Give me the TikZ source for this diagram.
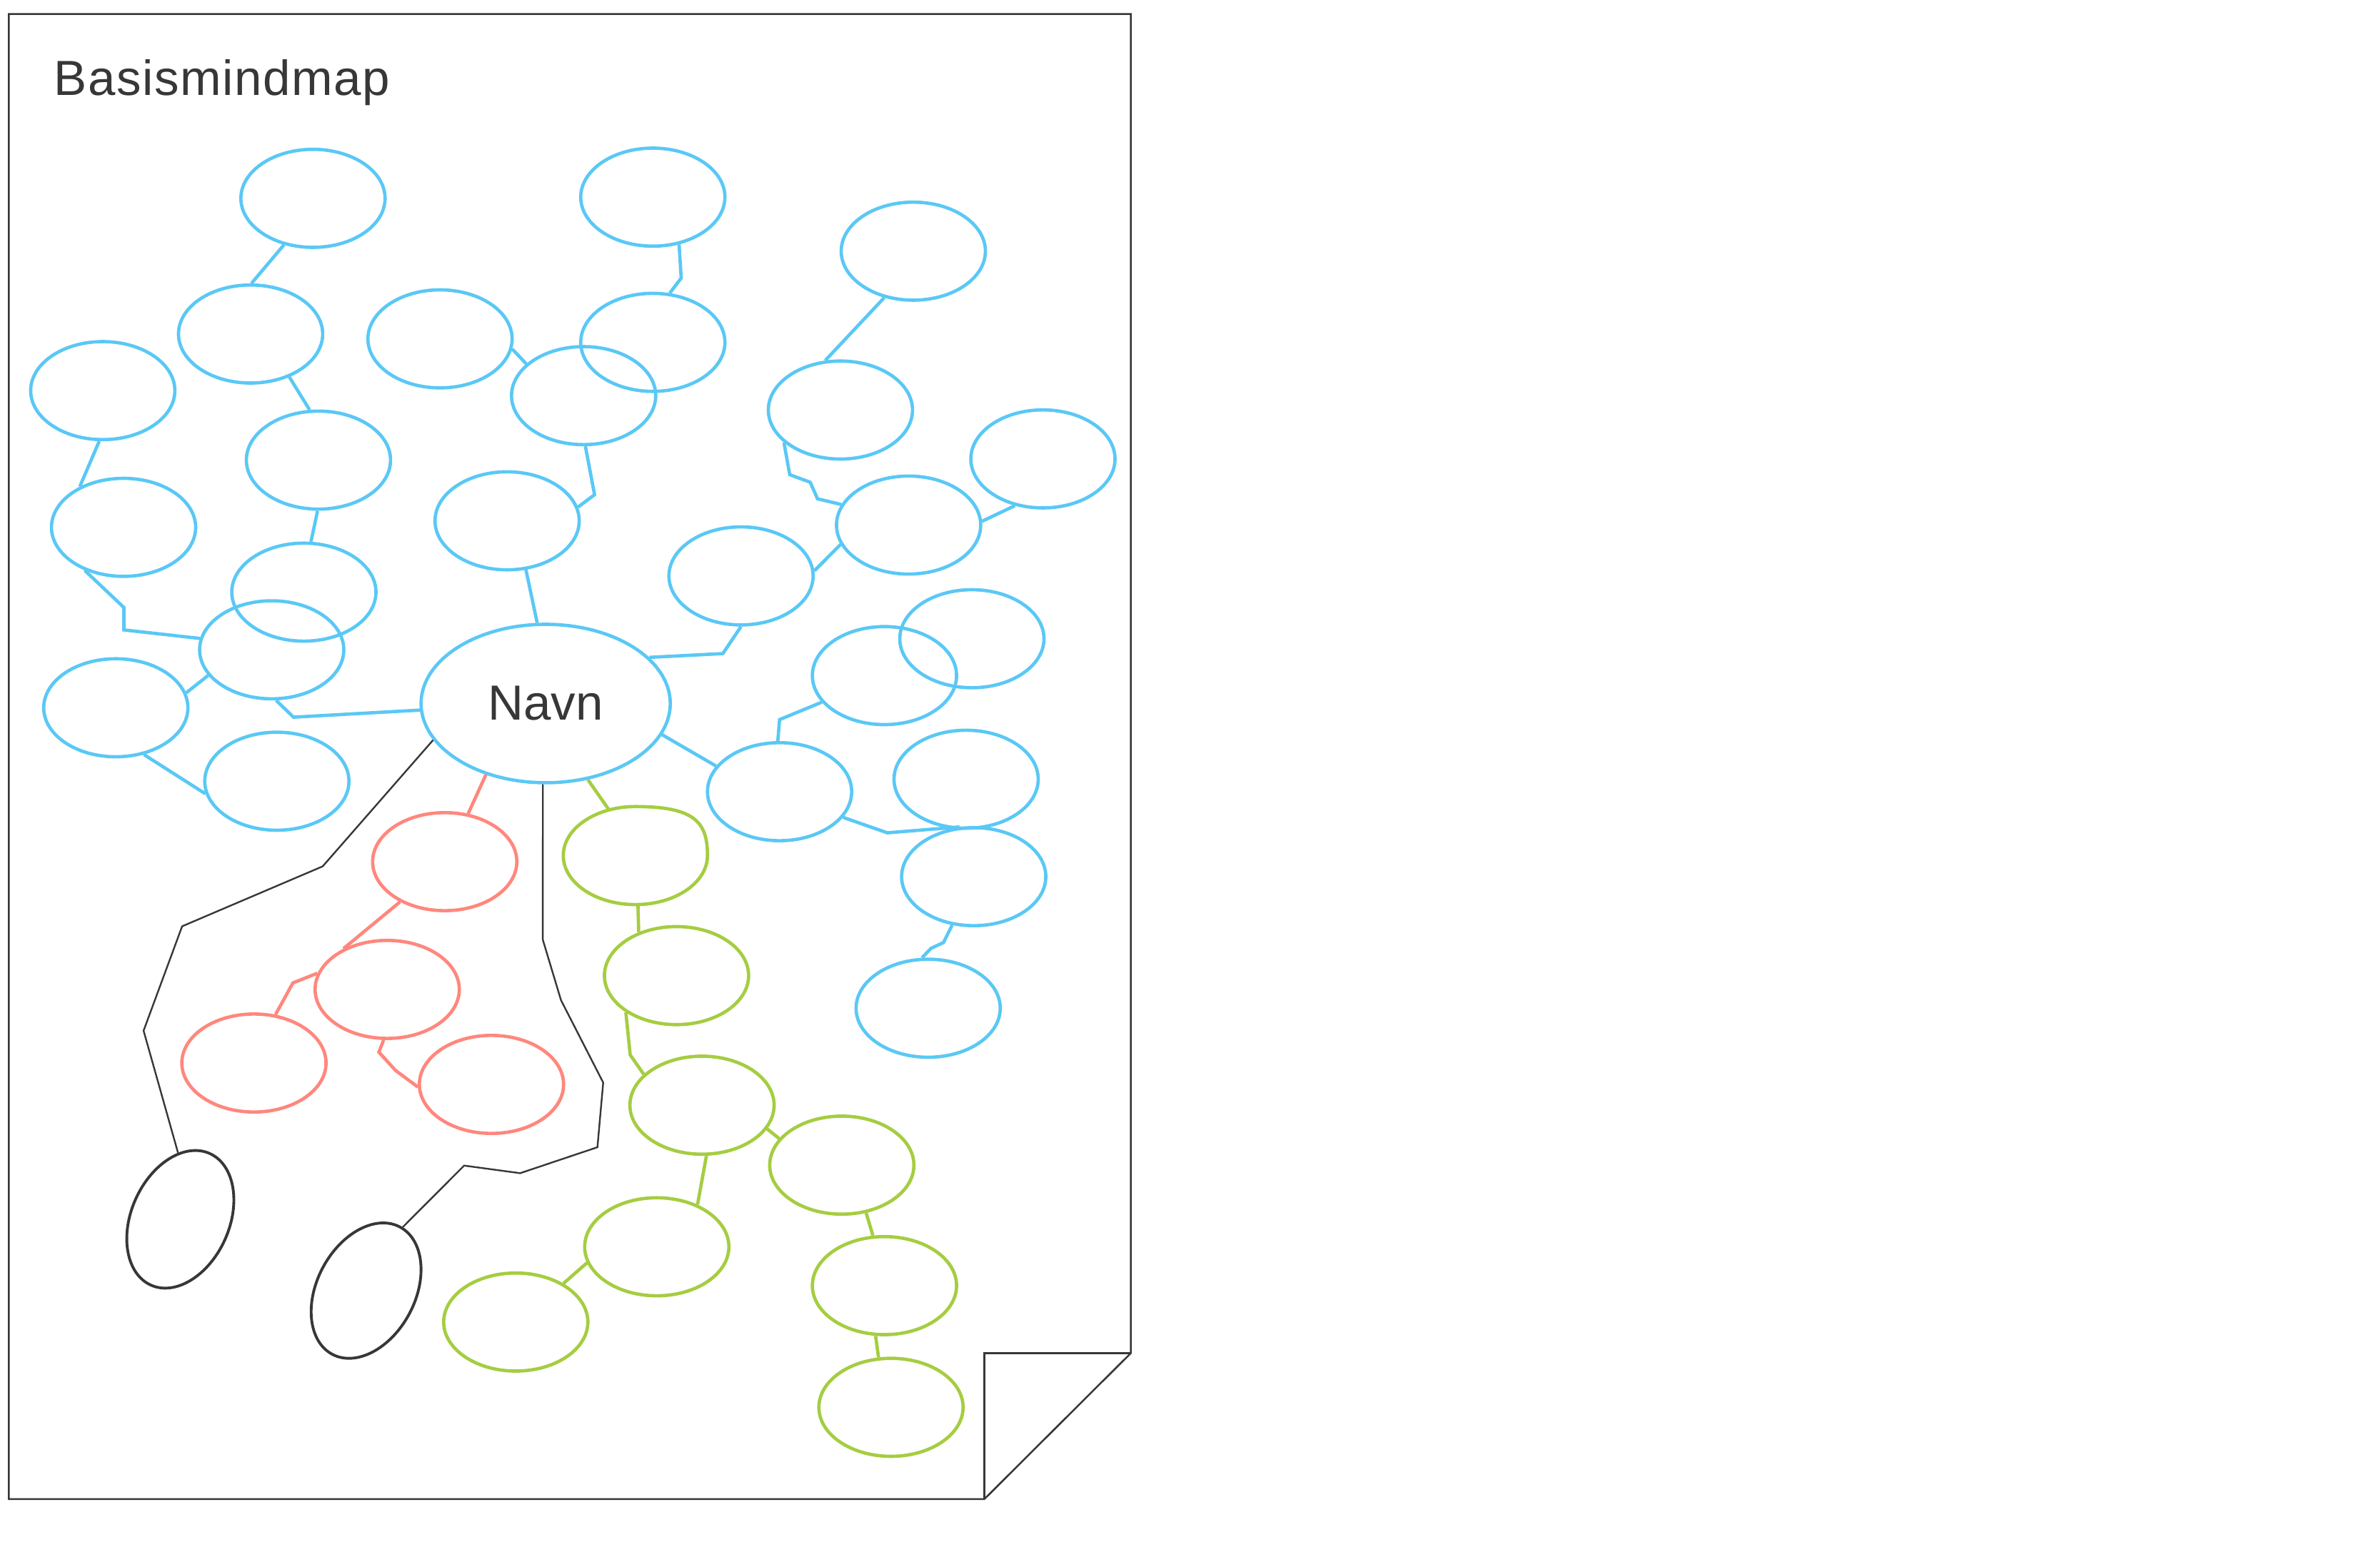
\documentclass[tikz,border=0pt]{standalone}
\usepackage{fontspec}
\setmainfont{Liberation Sans}
\usepackage{tikz}
\usetikzlibrary{shapes.geometric}
\definecolor{MapBlue}{RGB}{90,200,245}
\definecolor{MapRed}{RGB}{255,135,125}
\definecolor{MapGreen}{RGB}{165,205,65}
\definecolor{MapInk}{RGB}{55,55,55}

\begin{document}
\begin{tikzpicture}[x=0.1mm, y=-0.1mm,
          bub/.style={ellipse, draw, line width=0.62pt, inner sep=0pt,
                      minimum width=9.5mm, minimum height=6.46mm},
          bb/.style={bub, MapBlue},
          rb/.style={bub, MapRed},
          gb/.style={bub, MapGreen},
          kb/.style={bub, MapInk, line width=0.52pt},
          hub/.style={bub, draw=MapBlue, text=MapInk, font=\fontsize{9.25}{11}\selectfont,
                      minimum width=16.42mm, minimum height=10.44mm},
          bl/.style={MapBlue, line width=0.62pt},
          rl/.style={MapRed, line width=0.62pt},
          gl/.style={MapGreen, line width=0.62pt},
          kl/.style={MapInk, line width=0.32pt},
          page/.style={MapInk, line width=0.34pt, line join=miter}
        ]
        \useasboundingbox (0,0) rectangle (1568,1019.4);

        % sheet with folded corner
        \draw[page] (5.8,9.2) -- (745,9.2) -- (745,891.7) -- (648.5,987.9)
              -- (5.8,987.9) -- cycle;
        \draw[page] (648.5,987.9) -- (648.5,891.7) -- (745,891.7);

        \node[text=MapInk, font=\fontsize{9.25}{11}\selectfont\addfontfeature{LetterSpace=2.2},
              inner sep=0pt, anchor=base west] (title) at (35,62.7) {Basismindmap};

        % centre
        \node[hub] (navn) at (359.5,463.6) {Navn};

        % blue bubbles
        \node[bb] (b1) at (206.2,130.7) {};
        \node[bb] (b2) at (165.1,220.1) {};
        \node[bb] (b3) at (67.7,257.4) {};
        \node[bb] (b4) at (209.8,303.2) {};
        \node[bb] (b5) at (81.4,347.5) {};
        \node[bb] (b6) at (200.2,390.2) {};
        \node[bb] (b7) at (179.0,428.2) {};
        \node[bb] (b8) at (76.3,466.4) {};
        \node[bb] (b9) at (182.4,514.8) {};
        \node[bb] (b10) at (289.9,223.3) {};
        \node[bb] (b11) at (430.1,129.9) {};
        \node[bb] (b12) at (430.1,225.6) {};
        \node[bb] (b13) at (384.5,260.7) {};
        \node[bb] (b14) at (334.1,343.2) {};
        \node[bb] (b15) at (601.7,165.5) {};
        \node[bb] (b16) at (553.7,270.2) {};
        \node[bb] (b17) at (687.1,302.4) {};
        \node[bb] (b18) at (598.6,346.0) {};
        \node[bb] (b19) at (488.2,379.5) {};
        \node[bb] (b20) at (640.3,420.9) {};
        \node[bb] (b21) at (582.7,445.2) {};
        \node[bb] (b22) at (513.6,521.7) {};
        \node[bb] (b23) at (636.5,513.5) {};
        \node[bb] (b24) at (641.5,577.7) {};
        \node[bb] (b25) at (611.5,664.4) {};

        \draw[bl] (b1.238) -- (b2.89);
        \draw[bl] (b2.312) -- (b4.100);
        \draw[bl] (b4.269) -- (b6.82);
        \draw[bl] (b3.266) -- (b5.137);
        \draw[bl] (b5.228) -- (81.6,400.3) -- (81.6,415.1) -- (b7.171);
        \draw[bl] (b7.202) -- (b8.12);
        \draw[bl] (b7.275) -- (193.4,472.6) -- (navn.183);
        \draw[bl] (b8.301) -- (b9.190);
        \draw[bl] (b10.352) -- (b13.151);
        \draw[bl] (b11.299) -- (448.8,183.2) -- (b12.71);
        \draw[bl] (b13.272) -- (391.7,326) -- (b14.11);
        \draw[bl] (b14.291) -- (navn.96);
        \draw[bl] (navn.24) -- (476.2,430.7) -- (b19.270);
        \draw[bl] (b19.4) -- (b18.196);
        \draw[bl] (b15.238) -- (b16.107);
        \draw[bl] (b16.210) -- (520.3,312.8) -- (533.8,317.8) -- (538.6,328.7)
              -- (b18.163);
        \draw[bl] (b18.3) -- (b17.239);
        \draw[bl] (navn.345) -- (b22.158);
        \draw[bl] (b22.92) -- (513.6,474.2) -- (b21.203);
        \draw[bl] (b22.338) -- (584.6,548.8) -- (b24.106);
        \draw[bl] (b24.246) -- (621.6,621.1) -- (613.4,624.9) -- (b25.97);

        % red bubbles
        \node[rb] (r1) at (293.0,567.8) {};
        \node[rb] (r2) at (255.1,652.0) {};
        \node[rb] (r3) at (167.3,700.5) {};
        \node[rb] (r4) at (323.8,714.6) {};

        \draw[rl] (navn.230) -- (r1.64);
        \draw[rl] (r1.222) -- (r2.137);
        \draw[rl] (r2.167) -- (193,647.7) -- (r3.66);
        \draw[rl] (r2.266) -- (249.6,693.3) -- (260.6,705.4) -- (r4.182);

        % green bubbles (the first one has a squarish corner)
        \node[gb, draw=none, outer sep=0pt] (g1) at (418.6,563.8) {};
        \draw[gl, line join=round] (g1.north) .. controls (458,531.5) and (466.1,542) .. (g1.east)
              arc[start angle=0, end angle=270, x radius=47.5, y radius=32.3] -- cycle;
        \node[gb] (g2) at (445.7,642.9) {};
        \node[gb] (g3) at (462.5,728.3) {};
        \node[gb] (g4) at (554.6,767.8) {};
        \node[gb] (g5) at (432.7,821.6) {};
        \node[gb] (g6) at (339.8,871.2) {};
        \node[gb] (g7) at (582.7,847.2) {};
        \node[gb] (g8) at (587.0,927.4) {};

        \draw[gl] (navn.299) -- (g1.120);
        \draw[gl] (g1.273) -- (g2.131);
        \draw[gl] (g2.216) -- (415.2,695.2) -- (g3.152);
        \draw[gl] (g3.340) -- (g4.157);
        \draw[gl] (g3.275) -- (g5.46);
        \draw[gl] (g5.193) -- (g6.39);
        \draw[gl] (g4.297) -- (g7.103);
        \draw[gl] (g7.260) -- (g8.104);

        % tilted dark bubbles
        \node[kb, rotate=66] (k1) at (118.8,803.5) {};
        \node[kb, rotate=62] (k2) at (241.2,850.5) {};

        \draw[kl] (navn.198) -- (212.6,570.9) -- (120,610.4) -- (94.6,679.2)
              -- (k1.26);
        \draw[kl] (navn.268) -- (357.6,619.2) -- (369.6,659.1) -- (397.4,713.4)
              -- (393.6,756) -- (342.7,773.1) -- (305.8,768.1) -- (k2.358);
      \end{tikzpicture}
\end{document}
